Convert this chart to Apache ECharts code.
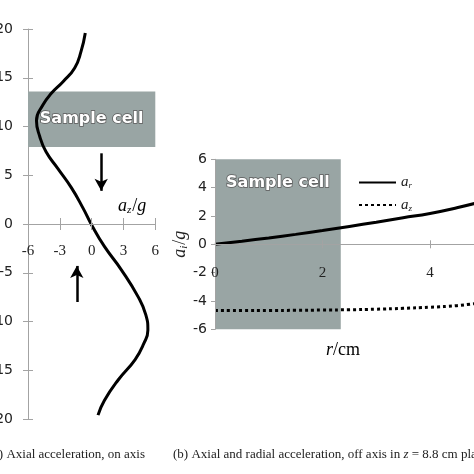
<!DOCTYPE html>
<html>
<head>
<meta charset="utf-8">
<script src="https://cdn.jsdelivr.net/npm/echarts@6/dist/echarts.min.js"></script>
<style>
html, body { margin: 0; padding: 0; background: #fff; }
#chart { width: 474px; height: 474px; }
</style>
</head>
<body>
<div id="chart"></div>
<script>
// (a) axial acceleration on the axis: z position (cm) and a_z/g
var axialZ = [19.6, 17.7, 16.0, 14.6, 13.4, 12.2, 10.6, 9.0, 7.4, 5.7, 3.7, 1.6, -0.1, -2.3, -4.7, -7.5, -9.3, -10.9, -12.3, -13.9, -16.0, -18.1, -19.6];
var axialAz = [-0.6, -1.0, -1.6, -2.7, -3.8, -4.6, -5.2, -4.9, -4.3, -3.2, -1.9, -0.8, 0.0, 1.2, 2.8, 4.4, 5.1, 5.3, 4.9, 4.1, 2.5, 1.2, 0.6];

// (b) off axis in the z = 8.8 cm plane
var radius = [0, 0.5, 1, 1.5, 2, 2.5, 3, 3.5, 4, 4.5, 5];
var radialAr = [0, 0.22, 0.45, 0.7, 0.97, 1.26, 1.56, 1.87, 2.18, 2.58, 3.05];
var radialAz = [-4.68, -4.68, -4.67, -4.66, -4.64, -4.62, -4.58, -4.52, -4.44, -4.33, -4.1];

// sample cell extents [xFrom, xTo, yFrom, yTo]
var cellAxial = [-6, 6, 13.6, 7.9];
var cellRadial = [0, 2.34, 6, -6];

// arrows on plot (a): [a_z, zFrom, zTo]
var arrowDown = [0.9, 7.25, 3.4];
var arrowUp = [-1.4, -8.0, -4.3];

var gray = '#a3a3a3';
var cellColor = '#99a5a4';
var serif = 'Liberation Serif';
var sans = 'DejaVu Sans';

function pairs(xs, ys) {
    var out = [];
    for (var i = 0; i < xs.length; i++) {
        out.push([xs[i], ys[i]]);
    }
    return out;
}

var mathRich = {
    i: { fontFamily: serif, fontStyle: 'italic', fontSize: 18, color: '#222', lineHeight: 22 },
    s: { fontFamily: serif, fontStyle: 'italic', fontSize: 11, color: '#222', padding: [8, 1, 0, 0] },
    n: { fontFamily: serif, fontSize: 18, color: '#222', lineHeight: 22 }
};

var cellLabel = {
    show: true,
    color: '#fff',
    fontFamily: sans,
    fontWeight: 'bold',
    fontSize: 16,
    textBorderColor: '#5a5a5a',
    textBorderWidth: 1.5
};

var myChart = echarts.init(document.getElementById('chart'));

var option = {
    backgroundColor: '#fff',
    animation: false,
    grid: [
        { left: 28, top: 29, width: 127.3, height: 390, outerBoundsMode: 'none', containLabel: false },
        { left: 215, top: 159.3, width: 322.5, height: 170, outerBoundsMode: 'none', containLabel: false }
    ],
    xAxis: [
        {
            type: 'value', gridIndex: 0, min: -6, max: 6, interval: 3, position: 'bottom', offset: -195, z: 5,
            axisLine: { onZero: false, lineStyle: { color: gray } },
            axisTick: { length: 6, lineStyle: { color: gray } },
            axisLabel: { margin: 20, fontFamily: serif, fontSize: 15, color: '#222' },
            splitLine: { show: false }
        },
        {
            type: 'value', gridIndex: 0, min: -6, max: 6, interval: 3, position: 'bottom', offset: -195, z: 5,
            axisLine: { show: false, onZero: false },
            axisTick: { inside: true, length: 6, lineStyle: { color: gray } },
            axisLabel: { show: false },
            splitLine: { show: false }
        },
        {
            type: 'value', gridIndex: 1, min: 0, max: 6, interval: 2, position: 'bottom', offset: -85, z: 5,
            axisLine: { onZero: false, lineStyle: { color: gray } },
            axisTick: { length: 4, lineStyle: { color: gray } },
            axisLabel: { margin: 21, fontFamily: serif, fontSize: 15, color: '#222' },
            splitLine: { show: false }
        },
        {
            type: 'value', gridIndex: 1, min: 0, max: 6, interval: 2, position: 'bottom', offset: -85, z: 5,
            axisLine: { show: false, onZero: false },
            axisTick: { inside: true, length: 4, lineStyle: { color: gray } },
            axisLabel: { show: false },
            splitLine: { show: false }
        }
    ],
    yAxis: [
        {
            type: 'value', gridIndex: 0, min: -20, max: 20, interval: 5, position: 'left',
            axisLine: { show: true, onZero: false, lineStyle: { color: gray } },
            axisTick: { show: true, length: 5, lineStyle: { color: gray } },
            axisLabel: { margin: 15, fontFamily: sans, fontSize: 14, color: '#222' },
            splitLine: { show: false }
        },
        {
            type: 'value', gridIndex: 0, min: -20, max: 20, interval: 5, position: 'left',
            axisLine: { show: false, onZero: false },
            axisTick: { show: true, inside: true, length: 5, lineStyle: { color: gray } },
            axisLabel: { show: false },
            splitLine: { show: false }
        },
        {
            type: 'value', gridIndex: 1, min: -6, max: 6, interval: 2, position: 'left', z: 5,
            axisLine: { show: true, onZero: false, lineStyle: { color: gray } },
            axisTick: { show: true, length: 4, lineStyle: { color: gray } },
            axisLabel: { margin: 8, fontFamily: sans, fontSize: 14, color: '#222' },
            splitLine: { show: false },
            name: '{i|a}{s|i}{n|/}{i|g}',
            nameLocation: 'middle',
            nameRotate: 90,
            nameGap: 24,
            nameMoveOverlap: false,
            nameTextStyle: { rich: mathRich }
        }
    ],
    legend: {
        left: 358,
        top: 175,
        padding: 0,
        orient: 'vertical',
        itemWidth: 37,
        itemHeight: 14,
        itemGap: 7,
        itemStyle: { opacity: 0 },
        data: ['a_r', 'a_z'],
        formatter: function (name) {
            return name === 'a_r' ? '{i|a}{s|r}' : '{i|a}{s|z}';
        },
        textStyle: {
            rich: {
                i: { fontFamily: serif, fontStyle: 'italic', fontSize: 15, color: '#222', lineHeight: 18 },
                s: { fontFamily: serif, fontStyle: 'italic', fontSize: 9, color: '#222', padding: [7, 0, 0, 0] }
            }
        }
    },
    series: [
        {
            name: 'cellA',
            type: 'line',
            xAxisIndex: 0,
            yAxisIndex: 0,
            data: [],
            z: 1,
            silent: true,
            markArea: {
                silent: true,
                itemStyle: { color: cellColor, opacity: 1 },
                label: Object.assign({ position: 'inside' }, cellLabel),
                data: [[
                    { name: 'Sample cell', coord: [cellAxial[0], cellAxial[2]] },
                    { coord: [cellAxial[1], cellAxial[3]] }
                ]]
            },
            markLine: {
                silent: true,
                symbol: ['none', 'arrow'],
                symbolSize: [10, 12],
                label: { show: false },
                lineStyle: { color: '#000', width: 2.5, type: 'solid' },
                data: [
                    [{ coord: [arrowDown[0], arrowDown[1]] }, { coord: [arrowDown[0], arrowDown[2]] }],
                    [{ coord: [arrowUp[0], arrowUp[1]] }, { coord: [arrowUp[0], arrowUp[2]] }]
                ]
            }
        },
        {
            name: 'axial',
            type: 'line',
            xAxisIndex: 0,
            yAxisIndex: 0,
            data: pairs(axialAz, axialZ),
            smooth: true,
            symbol: 'none',
            z: 3,
            lineStyle: { color: '#000', width: 3 }
        },
        {
            name: 'cellB',
            type: 'line',
            xAxisIndex: 2,
            yAxisIndex: 2,
            data: [],
            z: 1,
            silent: true,
            markArea: {
                silent: true,
                itemStyle: { color: cellColor, opacity: 1 },
                label: Object.assign({ position: 'insideTop', distance: 16 }, cellLabel),
                data: [[
                    { name: 'Sample cell', coord: [cellRadial[0], cellRadial[2]] },
                    { coord: [cellRadial[1], cellRadial[3]] }
                ]]
            }
        },
        {
            name: 'a_r',
            type: 'line',
            xAxisIndex: 2,
            yAxisIndex: 2,
            data: pairs(radius, radialAr),
            smooth: true,
            symbol: 'none',
            z: 3,
            itemStyle: { color: '#000' },
            lineStyle: { color: '#000', width: 3 }
        },
        {
            name: 'a_z',
            type: 'line',
            xAxisIndex: 2,
            yAxisIndex: 2,
            data: pairs(radius, radialAz),
            smooth: true,
            symbol: 'none',
            z: 3,
            itemStyle: { color: '#000' },
            lineStyle: { color: '#000', width: 3, type: [3, 3] }
        }
    ],
    graphic: [
        {
            type: 'text', x: 118, y: 195, z: 10,
            style: { text: '{i|a}{s|z}{n|/}{i|g}', rich: mathRich }
        },
        {
            type: 'text', x: 343, y: 350, z: 10,
            style: { text: '{i|r}{n|/cm}', rich: mathRich, align: 'center', verticalAlign: 'middle' }
        },
        {
            type: 'text', x: 145, y: 455, z: 10,
            style: {
                text: '(a) Axial acceleration, on axis',
                font: '13px "Liberation Serif"', fill: '#222',
                align: 'right', verticalAlign: 'middle'
            }
        },
        {
            type: 'text', x: 173, y: 455, z: 10,
            style: {
                text: '(b) Axial and radial acceleration, off axis in {i|z} = 8.8 cm plane',
                font: '13px "Liberation Serif"', fill: '#222',
                align: 'left', verticalAlign: 'middle',
                rich: { i: { fontFamily: serif, fontStyle: 'italic', fontSize: 13, fill: '#222' } }
            }
        }
    ]
};

myChart.setOption(option);
</script>
</body>
</html>
